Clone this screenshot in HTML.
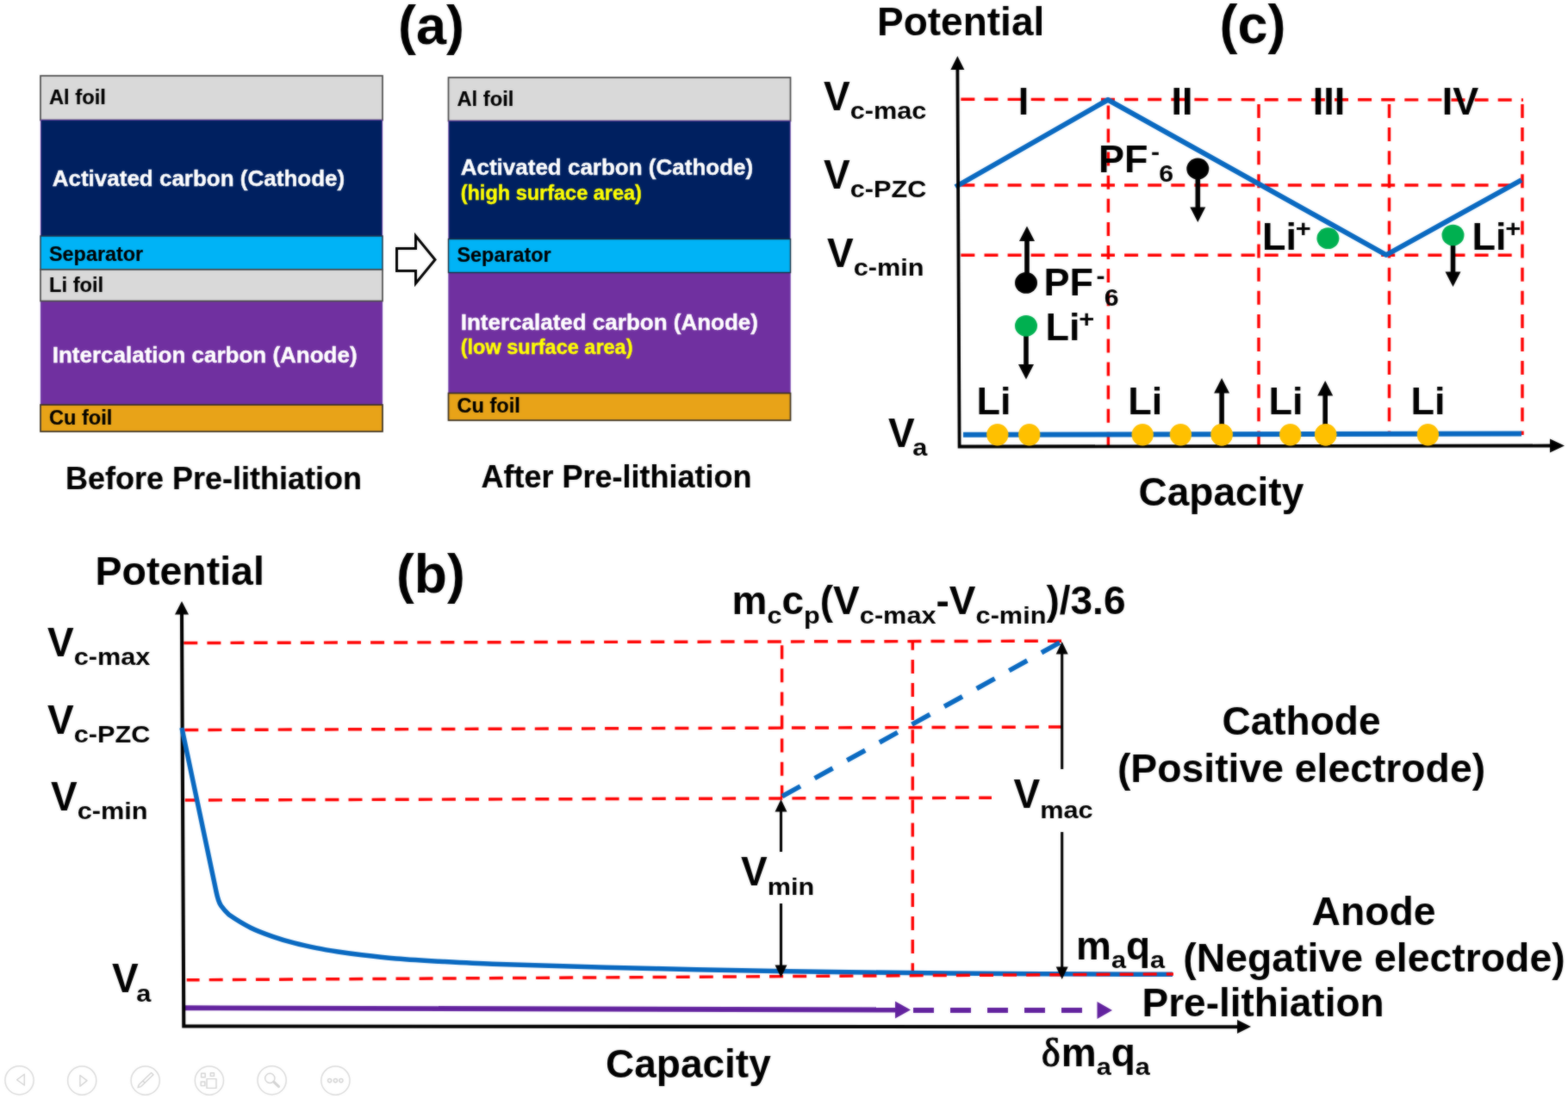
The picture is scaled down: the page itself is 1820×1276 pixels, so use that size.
<!DOCTYPE html>
<html lang="en">
<head>
<meta charset="utf-8">
<title>Pre-lithiation schematic</title>
<style>
html,body{margin:0;padding:0;background:#fff;}
body{width:1820px;height:1276px;overflow:hidden;}
svg{display:block;}
svg text{font-family:"Liberation Sans",Arial,Helvetica,sans-serif;font-weight:bold;stroke-linejoin:round;}
svg text.sym{font-family:"Liberation Serif","DejaVu Serif",serif;font-weight:normal;}
</style>
</head>
<body>
<svg width="1820" height="1276" viewBox="0 0 1820 1276">
<defs><filter id="soft" x="0" y="0" width="1820" height="1276" filterUnits="userSpaceOnUse" color-interpolation-filters="sRGB"><feGaussianBlur in="SourceGraphic" stdDeviation="0.8" result="b"/><feComposite in="SourceGraphic" in2="b" operator="arithmetic" k1="0" k2="0.5" k3="0.5" k4="0"/></filter></defs>
<rect x="0" y="0" width="1820" height="1276" fill="#fff"/>
<g style="filter:url(#soft)">
<rect x="-20" y="-20" width="1860" height="1316" fill="#fff"/>
<g id="panel-a">
<rect x="47" y="88" width="397" height="51.5" fill="#D9D9D9" stroke="#4a4a4a" stroke-width="1.7"/>
<rect x="47.3" y="139.3" width="396.4" height="134.7" fill="#002060" stroke="#6A3AA8" stroke-width="0.9"/>
<rect x="47.3" y="349.5" width="396.4" height="120.5" fill="#7030A0" stroke="#6A3AA8" stroke-width="0.9"/>
<rect x="47" y="274" width="397" height="39" fill="#00B3F6" stroke="#1c2c3c" stroke-width="1.4"/>
<rect x="47" y="313" width="397" height="36.5" fill="#D9D9D9" stroke="#4a4a4a" stroke-width="1.7"/>
<rect x="47" y="470" width="397" height="31" fill="#E8A318" stroke="#3a3020" stroke-width="1.7"/>
<text x="57" y="121" font-size="23.7" fill="#000" stroke="#000" stroke-width="0.2" text-anchor="start">Al foil</text>
<text x="60.7" y="216.3" font-size="26" fill="#fff" stroke="#fff" stroke-width="0.45" text-anchor="start">Activated carbon (Cathode)</text>
<text x="57" y="302.5" font-size="23.4" fill="#000" stroke="#000" stroke-width="0.2" text-anchor="start">Separator</text>
<text x="57" y="338.5" font-size="23.7" fill="#000" stroke="#000" stroke-width="0.2" text-anchor="start">Li foil</text>
<text x="60.7" y="420.8" font-size="26" fill="#fff" stroke="#fff" stroke-width="0.45" text-anchor="start">Intercalation carbon (Anode)</text>
<text x="57" y="492.5" font-size="23.6" fill="#000" stroke="#000" stroke-width="0.2" text-anchor="start">Cu foil</text>
<rect x="520.5" y="90" width="397" height="50.5" fill="#D9D9D9" stroke="#4a4a4a" stroke-width="1.7"/>
<rect x="520.8" y="140.3" width="396.4" height="137.2" fill="#002060" stroke="#6A3AA8" stroke-width="0.9"/>
<rect x="520.8" y="316.5" width="396.4" height="140.0" fill="#7030A0" stroke="#6A3AA8" stroke-width="0.9"/>
<rect x="520.5" y="277.5" width="397" height="39.0" fill="#00B3F6" stroke="#1c2c3c" stroke-width="1.4"/>
<rect x="520.5" y="456.5" width="397" height="31.5" fill="#E8A318" stroke="#3a3020" stroke-width="1.7"/>
<text x="530.5" y="122.5" font-size="23.7" fill="#000" stroke="#000" stroke-width="0.2" text-anchor="start">Al foil</text>
<text x="534.7" y="203" font-size="26" fill="#fff" stroke="#fff" stroke-width="0.45" text-anchor="start">Activated carbon (Cathode)</text>
<text x="534.7" y="232" font-size="23.5" fill="#FFFF00" stroke="#FFFF00" stroke-width="0.45" text-anchor="start">(high surface area)</text>
<text x="530.5" y="303.5" font-size="23.4" fill="#000" stroke="#000" stroke-width="0.2" text-anchor="start">Separator</text>
<text x="534.7" y="382.5" font-size="26" fill="#fff" stroke="#fff" stroke-width="0.45" text-anchor="start">Intercalated carbon (Anode)</text>
<text x="534.7" y="411" font-size="23.5" fill="#FFFF00" stroke="#FFFF00" stroke-width="0.45" text-anchor="start">(low surface area)</text>
<text x="530.5" y="478.8" font-size="23.6" fill="#000" stroke="#000" stroke-width="0.2" text-anchor="start">Cu foil</text>
<polygon points="460.5,288.5 482.5,288.5 482.5,274 505,301.5 482.5,329 482.5,314.5 460.5,314.5" fill="#fff" stroke="#000" stroke-width="3" stroke-linejoin="miter"/>
<text x="462" y="51" font-size="63" fill="#000" stroke="#000" stroke-width="0" text-anchor="start">(a)</text>
<text x="76" y="567.5" font-size="36" fill="#000" stroke="#000" stroke-width="0.2" text-anchor="start">Before Pre-lithiation</text>
<text x="558.5" y="566" font-size="36" fill="#000" stroke="#000" stroke-width="0.2" text-anchor="start">After Pre-lithiation</text>
</g>
<g id="panel-c">
<text x="1018" y="40.8" font-size="46" fill="#000" stroke="#000" stroke-width="0" text-anchor="start">Potential</text>
<text x="1415.5" y="50" font-size="63" fill="#000" stroke="#000" stroke-width="0" text-anchor="start">(c)</text>
<text transform="translate(956.00,127.5) scale(1,1.06)" font-size="46" fill="#000">V</text>
<text transform="translate(986.68,138.30) scale(1.0810,1)" font-size="28.4" fill="#000">c-mac</text>
<text transform="translate(956.00,218.5) scale(1,1.06)" font-size="46" fill="#000">V</text>
<text transform="translate(986.68,229.30) scale(1.0810,1)" font-size="28.4" fill="#000">c-PZC</text>
<text transform="translate(960.00,309.5) scale(1,1.06)" font-size="46" fill="#000">V</text>
<text transform="translate(990.68,320.30) scale(1.0810,1)" font-size="28.4" fill="#000">c-min</text>
<text transform="translate(1031.00,518.5) scale(1,1.06)" font-size="46" fill="#000">V</text>
<text transform="translate(1059.18,529.30) scale(1.0810,1)" font-size="28.4" fill="#000">a</text>
<line x1="1115.4" y1="115.3" x2="1768" y2="116" stroke="#FF0000" stroke-width="3.45" stroke-dasharray="16 11.1" stroke-dashoffset="0"/>
<line x1="1115.4" y1="215" x2="1768" y2="215" stroke="#FF0000" stroke-width="3.45" stroke-dasharray="16 11.1" stroke-dashoffset="0"/>
<line x1="1115.4" y1="296.2" x2="1768" y2="296.2" stroke="#FF0000" stroke-width="3.45" stroke-dasharray="16 11.1" stroke-dashoffset="0"/>
<line x1="1286.4" y1="122.4" x2="1286.4" y2="518" stroke="#FF0000" stroke-width="3.45" stroke-dasharray="16 11.1" stroke-dashoffset="0"/>
<line x1="1461" y1="121" x2="1461" y2="518" stroke="#FF0000" stroke-width="3.45" stroke-dasharray="16 11.1" stroke-dashoffset="0"/>
<line x1="1612.5" y1="121" x2="1612.5" y2="505" stroke="#FF0000" stroke-width="3.45" stroke-dasharray="16 11.1" stroke-dashoffset="0"/>
<line x1="1767" y1="121" x2="1767" y2="505" stroke="#FF0000" stroke-width="3.45" stroke-dasharray="16 11.1" stroke-dashoffset="0"/>
<text x="1188" y="132.5" font-size="45" fill="#000" stroke="#000" stroke-width="0" text-anchor="middle">I</text>
<text x="1372" y="132.5" font-size="45" fill="#000" stroke="#000" stroke-width="0" text-anchor="middle">II</text>
<text x="1542.5" y="132.5" font-size="45" fill="#000" stroke="#000" stroke-width="0" text-anchor="middle">III</text>
<text x="1695" y="132.5" font-size="45" fill="#000" stroke="#000" stroke-width="0" text-anchor="middle">IV</text>
<polyline points="1109,217 1286,115.8 1609,296 1766,209" fill="none" stroke="#0868C0" stroke-width="6" stroke-linejoin="round"/>
<line x1="1118" y1="504.7" x2="1766" y2="503.5" stroke="#0868C0" stroke-width="6"/>
<polyline points="1111.4,80 1113.6,518.5 1800,517.5" fill="none" stroke="#000" stroke-width="3.8"/>
<polygon points="1103.4,81 1119.4,81 1111.4,65" fill="#000"/>
<polygon points="1799,509.5 1799,525.5 1816,517.4" fill="#000"/>
<circle cx="1157.8" cy="504.7" r="12.7" fill="#FFC000"/>
<circle cx="1194.7" cy="504.7" r="12.7" fill="#FFC000"/>
<circle cx="1326.2" cy="504.7" r="12.7" fill="#FFC000"/>
<circle cx="1370.4" cy="504.7" r="12.7" fill="#FFC000"/>
<circle cx="1418.1" cy="504.7" r="12.7" fill="#FFC000"/>
<circle cx="1497.7" cy="504.7" r="12.7" fill="#FFC000"/>
<circle cx="1538.7" cy="504.7" r="12.7" fill="#FFC000"/>
<circle cx="1657.4" cy="504.7" r="12.7" fill="#FFC000"/>
<line x1="1192" y1="327" x2="1192" y2="279.0" stroke="#000" stroke-width="5.6"/>
<polygon points="1183.0,280.0 1201.0,280.0 1192,262.5" fill="#000"/>
<ellipse cx="1191" cy="328.4" rx="13" ry="12.35" fill="#000"/>
<line x1="1191" y1="378" x2="1191" y2="424.0" stroke="#000" stroke-width="5.6"/>
<polygon points="1182.0,423.0 1200.0,423.0 1191,440.5" fill="#000"/>
<ellipse cx="1191" cy="378.3" rx="13" ry="12.35" fill="#00B050"/>
<line x1="1390.3" y1="196" x2="1390.3" y2="241.5" stroke="#000" stroke-width="5.6"/>
<polygon points="1381.3,240.5 1399.3,240.5 1390.3,258" fill="#000"/>
<ellipse cx="1390.3" cy="195.9" rx="13" ry="12.35" fill="#000"/>
<ellipse cx="1541.4" cy="276.7" rx="13" ry="12.35" fill="#00B050"/>
<line x1="1686.5" y1="273" x2="1686.5" y2="316.5" stroke="#000" stroke-width="5.6"/>
<polygon points="1677.5,315.5 1695.5,315.5 1686.5,333" fill="#000"/>
<ellipse cx="1686.5" cy="273" rx="13" ry="12.35" fill="#00B050"/>
<line x1="1418.1" y1="500" x2="1418.1" y2="455.5" stroke="#000" stroke-width="5.6"/>
<polygon points="1409.1,456.5 1427.1,456.5 1418.1,439" fill="#000"/>
<line x1="1538.2" y1="500" x2="1538.2" y2="458.5" stroke="#000" stroke-width="5.6"/>
<polygon points="1529.2,459.5 1547.2,459.5 1538.2,442" fill="#000"/>
<circle cx="1418.1" cy="504.7" r="12.7" fill="#FFC000"/>
<circle cx="1538.7" cy="504.7" r="12.7" fill="#FFC000"/>
<text x="1275.00" y="199.5" font-size="45" fill="#000">PF</text>
<text transform="translate(1336.00,186.30) scale(1.1000,1)" font-size="27.5" fill="#000">-</text>
<text transform="translate(1345.28,211.00) scale(1.0800,1)" font-size="28" fill="#000">6</text>
<text x="1211.50" y="343" font-size="45" fill="#000">PF</text>
<text transform="translate(1272.50,329.80) scale(1.1000,1)" font-size="27.5" fill="#000">-</text>
<text transform="translate(1281.78,354.50) scale(1.0800,1)" font-size="28" fill="#000">6</text>
<text x="1213.50" y="395" font-size="45" fill="#000">Li</text>
<text transform="translate(1252.29,380.20) scale(1.0800,1)" font-size="28.5" fill="#000">+</text>
<text x="1465.00" y="289.5" font-size="45" fill="#000">Li</text>
<text transform="translate(1503.79,274.70) scale(1.0800,1)" font-size="28.5" fill="#000">+</text>
<text x="1708.50" y="289.5" font-size="45" fill="#000">Li</text>
<text transform="translate(1747.29,274.70) scale(1.0800,1)" font-size="28.5" fill="#000">+</text>
<text x="1133.50" y="480.5" font-size="45" fill="#000">Li</text>
<text x="1309.20" y="480.5" font-size="45" fill="#000">Li</text>
<text x="1472.50" y="480.5" font-size="45" fill="#000">Li</text>
<text x="1637.50" y="480.5" font-size="45" fill="#000">Li</text>
<text x="1321.5" y="586.5" font-size="46" fill="#000" stroke="#000" stroke-width="0" text-anchor="start">Capacity</text>
</g>
<g id="panel-b">
<text x="110.5" y="678.7" font-size="46.5" fill="#000" stroke="#000" stroke-width="0" text-anchor="start">Potential</text>
<text x="460" y="688" font-size="62.5" fill="#000" stroke="#000" stroke-width="0" text-anchor="start">(b)</text>
<text transform="translate(55.00,761.5) scale(1,1.06)" font-size="46" fill="#000">V</text>
<text transform="translate(85.68,772.00) scale(1.0810,1)" font-size="28.4" fill="#000">c-max</text>
<text transform="translate(55.00,851.5) scale(1,1.06)" font-size="46" fill="#000">V</text>
<text transform="translate(85.68,862.00) scale(1.0810,1)" font-size="28.4" fill="#000">c-PZC</text>
<text transform="translate(59.00,940.5) scale(1,1.06)" font-size="46" fill="#000">V</text>
<text transform="translate(89.68,951.00) scale(1.0810,1)" font-size="28.4" fill="#000">c-min</text>
<text transform="translate(130.00,1152) scale(1,1.06)" font-size="46" fill="#000">V</text>
<text transform="translate(158.18,1162.50) scale(1.0810,1)" font-size="28.4" fill="#000">a</text>
<line x1="213.3" y1="746.5" x2="1232" y2="744.2" stroke="#FF0000" stroke-width="3.45" stroke-dasharray="16 11.1" stroke-dashoffset="0"/>
<line x1="214.3" y1="847.5" x2="1232" y2="844" stroke="#FF0000" stroke-width="3.45" stroke-dasharray="16 11.1" stroke-dashoffset="0"/>
<line x1="214.8" y1="929" x2="1151" y2="926.2" stroke="#FF0000" stroke-width="3.45" stroke-dasharray="16 11.1" stroke-dashoffset="0"/>
<line x1="907.6" y1="749.2" x2="907.6" y2="926" stroke="#FF0000" stroke-width="3.45" stroke-dasharray="16 11.1" stroke-dashoffset="0"/>
<line x1="1059.3" y1="744.5" x2="1059.3" y2="1133" stroke="#FF0000" stroke-width="3.45" stroke-dasharray="16 11.1" stroke-dashoffset="5.7"/>
<line x1="908" y1="924.5" x2="1232" y2="745" stroke="#0868C0" stroke-width="5.6" stroke-dasharray="24 19" stroke-dashoffset="0"/>
<line x1="215" y1="1170.3" x2="1040" y2="1172.5" stroke="#62229E" stroke-width="5.9"/>
<polygon points="1039,1162.5 1039,1182.5 1057,1172.5" fill="#62229E"/>
<line x1="1060" y1="1173" x2="1260" y2="1173" stroke="#62229E" stroke-width="5.9" stroke-dasharray="24 19"/>
<polygon points="1273.5,1163 1273.5,1183 1291,1173" fill="#62229E"/>
<polyline points="211,712 213.3,1191.5 1438,1192.3" fill="none" stroke="#000" stroke-width="4.1"/>
<polygon points="203,713.5 219,713.5 211,698" fill="#000"/>
<polygon points="1436,1184 1436,1200 1452,1192" fill="#000"/>
<path d="M211,845 L250.3,1032 C252,1040 253,1046.5 256.5,1051.5 C259,1055 262,1058.5 265.8,1062 C273.9,1067.6 282.3,1072.8 291.1,1077.2 C299.2,1081.3 307.8,1084.3 316.4,1087.3 C324.7,1090.2 333.1,1092.7 341.6,1094.9 C350.0,1097.1 358.4,1098.9 366.9,1100.6 C375.3,1102.3 383.7,1103.7 392.2,1105 C401.4,1106.4 410.7,1107.7 420,1108.8 C433.3,1110.4 446.6,1111.9 460,1113 C478.3,1114.5 496.7,1115.5 515,1116.5 C533.9,1117.5 552.7,1118.5 571.6,1119.2 C615.4,1120.8 659.2,1122.1 703,1123.2 C768.7,1124.9 834.3,1126.5 900,1127.6 C966.7,1128.7 1033.3,1129.4 1100,1130 C1173.3,1130.6 1246.7,1130.9 1320,1131.2 C1333.7,1131.3 1347.3,1131.2 1361,1131.2" fill="none" stroke="#0868C0" stroke-width="5.5" stroke-linejoin="round"/>
<line x1="216.7" y1="1137.8" x2="1362" y2="1130.9" stroke="#FF0000" stroke-width="3.45" stroke-dasharray="16 11.1" stroke-dashoffset="1.1"/>
<line x1="906.5" y1="989" x2="906.5" y2="941.5" stroke="#000" stroke-width="3.1"/>
<polygon points="899.5,942.5 913.5,942.5 906.5,928" fill="#000"/>
<line x1="906.5" y1="1049" x2="906.5" y2="1121.5" stroke="#000" stroke-width="3.1"/>
<polygon points="899.5,1120.5 913.5,1120.5 906.5,1135" fill="#000"/>
<line x1="1232.7" y1="893" x2="1232.7" y2="758.5" stroke="#000" stroke-width="3.1"/>
<polygon points="1225.7,759.5 1239.7,759.5 1232.7,745" fill="#000"/>
<line x1="1232.7" y1="966" x2="1232.7" y2="1123.5" stroke="#000" stroke-width="3.1"/>
<polygon points="1225.7,1122.5 1239.7,1122.5 1232.7,1137" fill="#000"/>
<text transform="translate(860.00,1028) scale(1,1.06)" font-size="46" fill="#000">V</text>
<text transform="translate(890.68,1038.50) scale(1.0810,1)" font-size="28.4" fill="#000">min</text>
<text transform="translate(1176.50,938.2) scale(1,1.06)" font-size="46" fill="#000">V</text>
<text transform="translate(1207.18,949.70) scale(1.0810,1)" font-size="28.4" fill="#000">mac</text>
<text x="849.50" y="713.3" font-size="46" fill="#000">m</text>
<text transform="translate(890.40,723.80) scale(1.0810,1)" font-size="28.4" fill="#000">c</text>
<text x="907.48" y="713.3" font-size="46" fill="#000">c</text>
<text transform="translate(933.06,723.80) scale(1.0810,1)" font-size="28.4" fill="#000">p</text>
<text x="951.81" y="713.3" font-size="46" fill="#000">(V</text>
<text transform="translate(997.81,723.80) scale(1.0810,1)" font-size="28.4" fill="#000">c-max</text>
<text x="1086.55" y="713.3" font-size="46" fill="#000">-V</text>
<text transform="translate(1132.56,723.80) scale(1.0810,1)" font-size="28.4" fill="#000">c-min</text>
<text x="1214.43" y="713.3" font-size="46" fill="#000">)/3.6</text>
<text x="1249.00" y="1113.8" font-size="46" fill="#000">m</text>
<text transform="translate(1289.90,1124.30) scale(1.0810,1)" font-size="28.4" fill="#000">a</text>
<text x="1306.98" y="1113.8" font-size="46" fill="#000">q</text>
<text transform="translate(1335.07,1124.30) scale(1.0810,1)" font-size="28.4" fill="#000">a</text>
<text x="1209.00" y="1237.5" font-size="46" fill="#000" stroke="#000" stroke-width="1.2" class="sym">δ</text>
<text x="1231.72" y="1237.5" font-size="46" fill="#000">m</text>
<text transform="translate(1272.63,1248.00) scale(1.0810,1)" font-size="28.4" fill="#000">a</text>
<text x="1289.70" y="1237.5" font-size="46" fill="#000">q</text>
<text transform="translate(1317.80,1248.00) scale(1.0810,1)" font-size="28.4" fill="#000">a</text>
<text x="1510.5" y="852.5" font-size="46" fill="#000" stroke="#000" stroke-width="0" text-anchor="middle">Cathode</text>
<text x="1510.5" y="907.7" font-size="46.3" fill="#000" stroke="#000" stroke-width="0" text-anchor="middle">(Positive electrode)</text>
<text x="1594.5" y="1073.7" font-size="46.3" fill="#000" stroke="#000" stroke-width="0" text-anchor="middle">Anode</text>
<text x="1595" y="1128" font-size="46.4" fill="#000" stroke="#000" stroke-width="0" text-anchor="middle">(Negative electrode)</text>
<text x="1325.5" y="1179.5" font-size="46" fill="#000" stroke="#000" stroke-width="0" text-anchor="start">Pre-lithiation</text>
<text x="703" y="1250.7" font-size="46" fill="#000" stroke="#000" stroke-width="0" text-anchor="start">Capacity</text>
</g>
<g id="nav" fill="none" stroke="#dadada" stroke-width="1.5">
<circle cx="22.5" cy="1254.3" r="16.6"/>
<circle cx="95.2" cy="1254.6" r="16.6"/>
<circle cx="168.7" cy="1254.6" r="16.6"/>
<circle cx="242.9" cy="1254.6" r="16.6"/>
<circle cx="315.6" cy="1254.3" r="16.6"/>
<circle cx="389.4" cy="1254.6" r="16.6"/>
</g>
<g id="nav-glyphs" fill="none" stroke="#d2d2d2" stroke-width="1.4" stroke-linejoin="round" stroke-linecap="round">
<path d="M28.3,1247.3 L19.6,1253.7 L28.3,1260 Z"/>
<path d="M92.9,1248.5 L101,1254.6 L92.9,1261.2 Z"/>
<path d="M160,1262.7 L161.3,1259.2 L175.6,1245.4 L178,1247.8 L163.7,1261.6 Z M165.8,1254.9 L168.2,1257.3"/>
<rect x="233.6" y="1246.2" width="4.6" height="4.6"/><rect x="244.3" y="1245.8" width="4.2" height="3.6"/><rect x="233.2" y="1256" width="4.6" height="4.6"/><rect x="240" y="1252.6" width="11" height="10.8" fill="#fff"/>
<circle cx="313.3" cy="1251.9" r="5.6"/><path d="M317.8,1256.2 L323.6,1261.6" stroke-width="3"/>
<circle cx="382.6" cy="1254.6" r="2.1"/><circle cx="389.4" cy="1254.6" r="2.1"/><circle cx="395.9" cy="1254.6" r="2.1"/>
</g>
</g>
</svg>
</body>
</html>
